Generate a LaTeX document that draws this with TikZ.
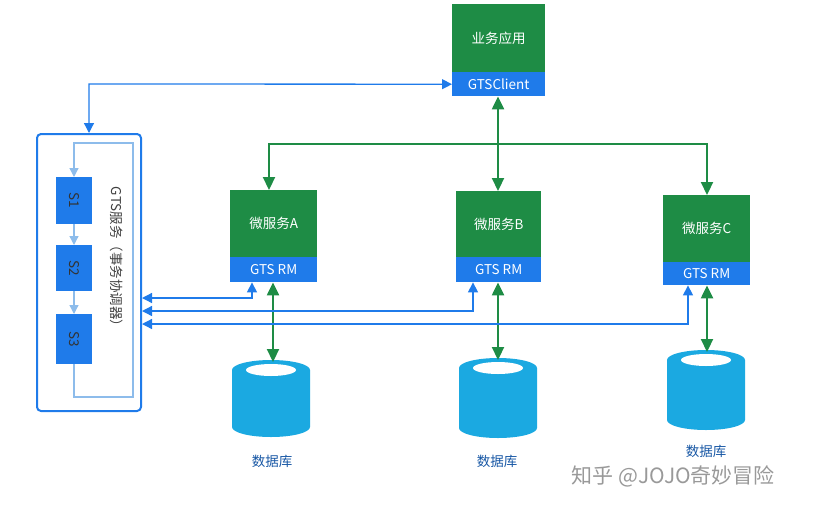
\documentclass[tikz,border=0pt]{standalone}
\usepackage{fontspec}
\setmainfont{Noto Sans CJK SC}
\usetikzlibrary{arrows.meta,positioning}
\definecolor{gr}{HTML}{1E8C45}
\definecolor{bl}{HTML}{1F7BEA}
\definecolor{cy}{HTML}{1BA9E1}
\definecolor{lb}{HTML}{8DBCEB}
\tikzset{
 fs/.style={font=\fontsize{13.5}{15}\selectfont},
 top/.style={fs,fill=gr,text=white,inner sep=0,anchor=north west},
 bot/.style={fs,fill=bl,text=white,inner sep=0,anchor=north west},
 sbox/.style={fs,fill=bl,text=black!80,inner sep=0,minimum width=36pt,anchor=north west},
 ga/.style={gr,line width=2.2pt,-{Triangle[length=13pt,width=12pt]}},
 gaa/.style={gr,line width=2.2pt,{Triangle[length=13pt,width=12pt]}-{Triangle[length=13pt,width=12pt]}},
 baa/.style={bl,line width=1.3pt,{Triangle[length=10pt,width=10pt]}-{Triangle[length=10pt,width=10pt]}},
 la/.style={lb,line width=1.3pt,-{Triangle[length=9pt,width=9pt]}},
 db/.style={fs,text=bl!70!black},
}
\newcommand{\cyl}[4]{% cx, top, bottom, name
 \fill[cy] (#1-39,#2+10) arc[start angle=180,end angle=360,x radius=39,y radius=10] -- (#1+39,#3-10) arc[start angle=0,end angle=180,x radius=39,y radius=10] -- cycle;
 \fill[white] (#1,#2+10) ellipse[x radius=25,y radius=6];
 \coordinate (#4) at (#1,#2);}
\begin{document}
\begin{tikzpicture}[x=1pt,y=-1pt]
\useasboundingbox (0,0) rectangle (832,509);
% app
\node[top,minimum width=93pt,minimum height=68pt] (app) at (452,4) {业务应用};
\node[bot,minimum width=93pt,minimum height=24pt] (cli) at (452,72) {GTSClient};
% services
\node[top,minimum width=87pt,minimum height=67pt] (a) at (230,190) {微服务A};
\node[bot,minimum width=87pt,minimum height=25pt] (arm) at (230,257) {GTS RM};
\node[top,minimum width=85pt,minimum height=66pt] (b) at (456,191) {微服务B};
\node[bot,minimum width=85pt,minimum height=25pt] (brm) at (456,257) {GTS RM};
\node[top,minimum width=87pt,minimum height=67pt] (c) at (663,195) {微服务C};
\node[bot,minimum width=87pt,minimum height=23pt] (crm) at (663,262) {GTS RM};
% GTS box
\node[draw=bl,line width=2pt,rounded corners=4pt,minimum width=104pt,minimum height=277pt,anchor=north west,inner sep=0] (gts) at (36,133) {};
\draw[lb,line width=1.3pt] (74,364) -- (74,397) -- (133,397) -- (133,143) -- (74,143) -- (74,160);
\node[sbox,minimum height=47pt] (s1) at (56,177) {\rotatebox{-90}{S1}};
\node[sbox,minimum height=46pt] (s2) at (56,245) {\rotatebox{-90}{S2}};
\node[sbox,minimum height=50pt] (s3) at (56,314) {\rotatebox{-90}{S3}};
\draw[la] (74,158) -- (s1.north -| 74,0);
\draw[la] (s1.south -| 74,0) -- (s2.north -| 74,0);
\draw[la] (s2.south -| 74,0) -- (s3.north -| 74,0);
\node[rotate=-90,fs,text=black!75] (gtst) at (117,260) {GTS服务（事务协调器）};
% client <-> gts
\draw[baa] (gts.north -| 89,0) -- (89,84) -- (cli.west);
% green bus
\draw[gaa] (cli.south -| 498,0) -- (b.north -| 498,0);
\draw[ga] (498,144) -- (269,144) -- (a.north -| 269,0);
\draw[ga] (498,144) -- (707,144) -- (c.north -| 707,0);
% cylinders
\cyl{271}{360}{437}{dba}
\cyl{498}{358}{438}{dbb}
\cyl{706}{350}{430}{dbc}
\draw[gaa] (arm.south -| 273,0) -- (273,362);
\draw[gaa] (brm.south -| 498,0) -- (498,360);
\draw[gaa] (crm.south -| 707,0) -- (707,352);
\node[db] (la) at (272,461) {数据库};
\node[db] (lbb) at (497,461) {数据库};
\node[db] (lc) at (706,451) {数据库};
% RM -> GTS
\draw[baa] (arm.south -| 252,0) -- (252,298) -- (gts.east |- 0,298);
\draw[baa] (brm.south -| 473,0) -- (473,311) -- (gts.east |- 0,311);
\draw[baa] (crm.south -| 688,0) -- (688,324) -- (gts.east |- 0,324);
\node[font=\fontsize{21}{24}\selectfont,text=black!40,anchor=west] (wm) at (568,476) {知乎 @JOJO奇妙冒险};
\end{tikzpicture}
\end{document}
